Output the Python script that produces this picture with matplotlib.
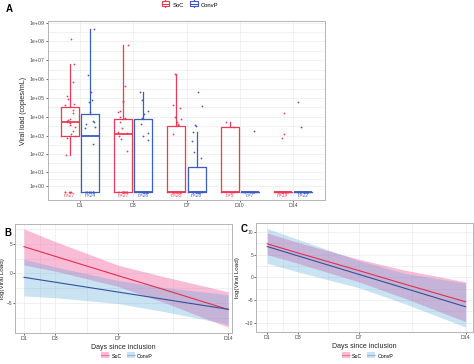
import numpy as np
import matplotlib
matplotlib.use('Agg')
import matplotlib.pyplot as plt
from matplotlib.patches import Rectangle
from matplotlib.lines import Line2D
from matplotlib.legend_handler import HandlerBase

plt.rcParams['font.family'] = ['Liberation Sans', 'DejaVu Sans']

# ---- panel A: viral load per visit (copies/mL, 0 = undetectable)
days = ['D1', 'D3', 'D7', 'D10', 'D14']
soc_n = [27, 27, 26, 5, 19]
convp_n = [24, 26, 26, 7, 22]

soc_q1 = [950, 0, 0, 0, 0]
soc_med = [5.5e3, 1.17e3, 0, 0, 0]
soc_q3 = [3.2e4, 7.4e3, 3.4e3, 2.95e3, 0]
soc_whislo = [93, 0, 0, 0, 0]
soc_whishi = [6.4e6, 6.3e7, 1.8e6, 5.5e3, 0]

convp_q1 = [0, 0, 0, 0, 0]
convp_med = [980, 0, 0, 0, 0]
convp_q3 = [1.45e4, 7.4e3, 21, 0, 0]
convp_whislo = [0, 0, 0, 0, 0]
convp_whishi = [4.9e8, 2e5, 1.6e3, 0, 0]

soc_d1 = [1.3e8, 6.4e6, 6.8e5, 1.3e5, 8.9e4, 5e4, 4e4, 2.3e4, 1.5e4, 8e3, 6.5e3, 6e3,
          5.5e3, 5e3, 4.5e3, 3.7e3, 3e3, 1.8e3, 1.2e3, 1e3, 740, 93]
soc_d3 = [6.3e7, 4.3e5, 6.6e4, 5.9e4, 2e4, 1.7e4, 1e4, 8.3e3, 5.5e3, 2.4e3, 1.6e3,
          1.3e3, 1e3, 660, 150]
soc_d7 = [1.8e6, 4.2e4, 2.8e4, 9.4e3, 8e3, 5.5e3, 4e3, 3.6e3, 3.5e3, 1.17e3]
soc_d10 = [5.5e3, 3e3]
soc_d14 = [1.5e4, 1.2e3, 720]

convp_d1 = [4.9e8, 1.6e6, 2.1e5, 7.8e4, 6.1e4, 1.8e4, 6e3, 5.1e3, 4.1e3, 2.9e3, 2.5e3, 345]
convp_d3 = [2e5, 7.8e4, 2e4, 1.4e4, 8.3e3, 4.1e3, 1.4e3, 980, 580]
convp_d7 = [2.1e5, 3.7e4, 3.5e3, 3.2e3, 1.6e3, 530, 140, 66]
convp_d10 = [1.8e3]
convp_d14 = [6.1e4, 3e3]

# ---- panels B and C: fitted log(viral load) with confidence band
fit_days = [1, 3, 7, 10, 14]
fit_ticks = [1, 3, 7, 14]
fit_labels = ['D1', 'D3', 'D7', 'D14']

b_soc_fit = [4.55, 2.9, -0.37, -2.8, -6.1]
b_soc_lo = [1.45, 0.4, -2.2, -5.0, -9.1]
b_soc_hi = [7.55, 5.4, 1.4, -0.6, -3.1]
b_conv_fit = [-0.65, -1.48, -3.15, -4.4, -6.07]
b_conv_lo = [-3.8, -4.1, -5.1, -6.5, -8.6]
b_conv_hi = [2.4, 1.1, -1.2, -2.4, -3.6]

c_soc_fit = [7.4, 5.4, 1.5, -1.5, -5.4]
c_soc_lo = [5.0, 3.1, -1.0, -4.6, -9.8]
c_soc_hi = [9.8, 7.7, 4.0, 1.6, -1.0]
c_conv_fit = [6.8, 4.75, 0.66, -2.4, -6.5]
c_conv_lo = [3.1, 1.2, -2.3, -5.8, -11.0]
c_conv_hi = [10.8, 8.4, 3.7, 0.9, -1.3]

RED = '#EC3A56'
BLUE = '#3C5CC0'
PINK_FILL = '#F06BA8'
BLUE_FILL = '#4FA3D9'
SOC_LINE = '#E0304E'
CONV_LINE = '#34509C'
GRID = '#EBEBEB'
BORDER = '#B5B5B5'
TXT = '#4D4D4D'


def fwd(x):
    return np.log10(np.clip(np.asarray(x, dtype=float) + 1, 1e-12, None))


def inv(y):
    return 10 ** np.asarray(y, dtype=float) - 1


class BoxKey(HandlerBase):
    # boxplot legend key: box with median line and whisker stubs
    def create_artists(self, legend, orig, xd, yd, w, h, fontsize, trans):
        c = orig.get_edgecolor()
        r = Rectangle((xd + w * 0.1, yd + h * 0.1), w * 0.8, h * 0.8, fc='white', ec=c, lw=0.8, transform=trans)
        m = Line2D([xd + w * 0.1, xd + w * 0.9], [yd + h / 2] * 2, color=c, lw=0.8, transform=trans)
        s1 = Line2D([xd + w / 2] * 2, [yd - h * 0.1, yd + h * 0.1], color=c, lw=0.8, transform=trans)
        s2 = Line2D([xd + w / 2] * 2, [yd + h * 0.9, yd + h * 1.1], color=c, lw=0.8, transform=trans)
        return [r, m, s1, s2]


class RibbonKey(HandlerBase):
    # ribbon legend key: filled square with the fit line through it
    def create_artists(self, legend, orig, xd, yd, w, h, fontsize, trans):
        r = Rectangle((xd, yd - h * 0.15), w, h * 1.3, fc=orig.get_facecolor(), ec='none', transform=trans)
        m = Line2D([xd, xd + w], [yd + h / 2] * 2, color=orig.get_edgecolor(), lw=0.8, transform=trans)
        return [r, m]


def style_axes(ax):
    for s in ax.spines.values():
        s.set_color(BORDER)
        s.set_linewidth(0.7)
    ax.tick_params(length=1.5, width=0.5, color='#333333', labelsize=3.8, labelcolor=TXT, pad=1)
    ax.grid(True, which='both', color=GRID, lw=0.5)
    ax.set_axisbelow(True)


fig = plt.figure(figsize=(4.74, 3.64), dpi=100)

# ================= panel A
ax = fig.add_axes([0.1013, 0.4505, 0.5844, 0.4918])
ax.set_yscale('function', functions=(fwd, inv))
style_axes(ax)

xpos = np.arange(1, len(days) + 1)
off = 0.19
rng = np.random.default_rng(7)
soc_pts = [soc_d1, soc_d3, soc_d7, soc_d10, soc_d14]
convp_pts = [convp_d1, convp_d3, convp_d7, convp_d10, convp_d14]

groups = [
    (-off, RED, soc_q1, soc_med, soc_q3, soc_whislo, soc_whishi, soc_pts, soc_n),
    (off, BLUE, convp_q1, convp_med, convp_q3, convp_whislo, convp_whishi, convp_pts, convp_n),
]
for dx, col, q1, med, q3, wlo, whi, pts, ns in groups:
    stats = [dict(q1=a, med=b, q3=c, whislo=d, whishi=e, fliers=[])
             for a, b, c, d, e in zip(q1, med, q3, wlo, whi)]
    ax.bxp(stats, positions=xpos + dx, widths=0.34, showcaps=False, showfliers=False,
           boxprops=dict(color=col, lw=0.9), whiskerprops=dict(color=col, lw=0.9),
           medianprops=dict(color=col, lw=1.3), manage_ticks=False)
    for i, p in enumerate(pts):
        vals = np.array(list(p) + [0] * (ns[i] - len(p)), dtype=float)
        jx = xpos[i] + dx + rng.uniform(-0.1, 0.1, len(vals))
        ax.scatter(jx, vals, s=1.6, color=col, lw=0, zorder=3)
        ax.text(xpos[i] + dx, inv(-0.2), f'n={ns[i]}', color=col, fontsize=3.6,
                ha='center', va='center', style='italic')

yt = [10.0 ** k for k in range(0, 10)]
ax.set_yticks(yt)
ax.set_yticks([inv((fwd(10.0 ** k) + fwd(10.0 ** (k + 1))) / 2) for k in range(0, 9)], minor=True)
ax.set_yticklabels([f'1e+{k:02d}' for k in range(0, 10)])
ax.tick_params(axis='y', which='minor', length=0)
ax.set_ylim(inv(-0.43), inv(9.09))
ax.set_xticks(xpos)
ax.set_xticklabels(days)
ax.set_xlim(0.4, 5.6)
ax.set_ylabel('Viral load (copies/mL)', fontsize=5, color='#222222', labelpad=2)

h_soc = Rectangle((0, 0), 1, 1, fc='white', ec=RED)
h_conv = Rectangle((0, 0), 1, 1, fc='white', ec=BLUE)
fig.legend([h_soc, h_conv], ['SoC', 'ConvP'], loc='center', bbox_to_anchor=(0.40, 0.985),
           ncol=2, frameon=False, fontsize=4.2, handlelength=1.6, handleheight=1.1,
           columnspacing=1.0, handletextpad=0.4, handler_map={Rectangle: BoxKey()})
fig.text(0.012, 0.975, 'A', fontsize=7, fontweight='bold', va='center')


def ribbon_panel(rect, fit_soc, lo_soc, hi_soc, fit_conv, lo_conv, hi_conv,
                 xlim, ylim, yticks, yminor, letter, lx, ly, legx, labx):
    ax = fig.add_axes(rect)
    style_axes(ax)
    ax.tick_params(axis='y', labelsize=3.5, pad=0.6)
    ax.fill_between(fit_days, lo_soc, hi_soc, color=PINK_FILL, alpha=0.45, lw=0)
    ax.fill_between(fit_days, lo_conv, hi_conv, color=BLUE_FILL, alpha=0.3, lw=0)
    ax.plot(fit_days, fit_soc, color=SOC_LINE, lw=0.8)
    ax.plot(fit_days, fit_conv, color=CONV_LINE, lw=0.8)
    ax.set_xticks(fit_ticks)
    ax.set_xticklabels(fit_labels)
    ax.set_xticks([2, 5, 10.5], minor=True)
    ax.set_yticks(yticks)
    ax.set_yticks(yminor, minor=True)
    ax.tick_params(which='minor', length=0)
    ax.set_xlim(*xlim)
    ax.set_ylim(*ylim)
    ax.set_xlabel('Days since inclusion', fontsize=5, color='#222222', labelpad=2)
    ax.set_ylabel('log(Viral Load)', fontsize=4.6, color='#222222')
    ax.yaxis.set_label_coords(labx, 0.5)
    fig.text(lx, ly, letter, fontsize=7, fontweight='bold', va='center')
    k1 = Rectangle((0, 0), 1, 1, fc=PINK_FILL, ec=SOC_LINE, alpha=0.45)
    k2 = Rectangle((0, 0), 1, 1, fc=BLUE_FILL, ec=CONV_LINE, alpha=0.3)
    fig.legend([k1, k2], ['SoC', 'ConvP'], loc='center', bbox_to_anchor=(legx, 0.02),
               ncol=2, frameon=False, fontsize=3.8, handlelength=1.5, handleheight=1.0,
               columnspacing=1.0, handletextpad=0.4, handler_map={Rectangle: RibbonKey()})
    return ax


ribbon_panel([0.0316, 0.0852, 0.4578, 0.2995], b_soc_fit, b_soc_lo, b_soc_hi,
             b_conv_fit, b_conv_lo, b_conv_hi, (0.43, 14.24), (-10.08, 8.39),
             [-5, 0, 5], [-7.5, -2.5, 2.5, 7.5], 'B', 0.01, 0.36, 0.268, -0.047)
ribbon_panel([0.540, 0.0879, 0.4578, 0.2995], c_soc_fit, c_soc_lo, c_soc_hi,
             c_conv_fit, c_conv_lo, c_conv_hi, (0.26, 14.48), (-12.07, 12.0),
             [-10, -5, 0, 5, 10], [-7.5, -2.5, 2.5, 7.5], 'C', 0.508, 0.372, 0.775, -0.072)

fig.savefig('out.png', dpi=100)
